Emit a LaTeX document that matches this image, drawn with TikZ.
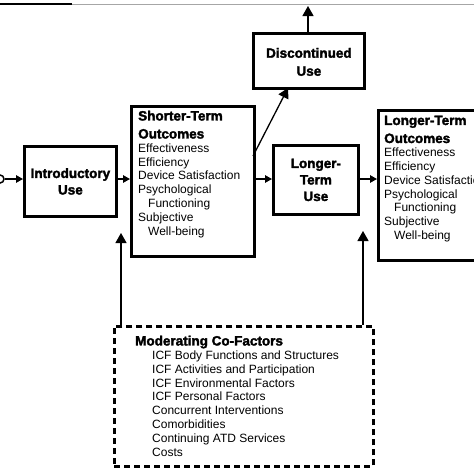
\documentclass[tikz,border=0pt]{standalone}
\usepackage{fontspec}
\setmainfont{Liberation Sans}
\newfontfamily\hdfont[BoldFeatures={FakeBold=2.2}]{Liberation Sans}
\usetikzlibrary{arrows.meta}
\newcommand{\hd}{\hdfont\bfseries\fontsize{13.5}{16.5}\selectfont}
\begin{document}
\begin{tikzpicture}[x=1pt,y=-1pt,
  box/.style={draw=black,line width=2.8pt,fill=white,inner sep=0pt,anchor=north west},
  boxtext/.style={align=center,font=\hd,inner sep=0pt},
  listtext/.style={align=left,inner sep=0pt,anchor=north west,font=\fontsize{12}{13.8}\selectfont},
  conn/.style={line width=1.3pt},
  bigtip/.style={-{Triangle[length=10pt,width=11pt]}},
  smalltip/.style={-{Triangle[length=7pt,width=7.5pt]}}]
\useasboundingbox (0,0) rectangle (474,474);
% top rule
\draw[gray!70,line width=1pt] (0,4) -- (474,4);
\draw[black,line width=1.2pt] (0,4) -- (72,4);
% boxes
\node[box,minimum width=92pt,minimum height=70pt] (intro) at (23,145) {};
\node[boxtext] (introtxt) at (intro.center) {Introductory\\Use};
\node[box,minimum width=123pt,minimum height=150pt] (short) at (130,105) {};
\node[listtext] (shorttxt) at (138,110.5) {{\hd Shorter-Term}\\[4.2pt]{\hd Outcomes}\\
Effectiveness\\Efficiency\\Device Satisfaction\\Psychological\\\hspace*{10pt}Functioning\\Subjective\\\hspace*{10pt}Well-being};
\node[box,minimum width=85pt,minimum height=69pt] (luse) at (272,144) {};
\node[boxtext] (lusetxt) at (luse.center) {Longer-\\Term\\Use};
\node[box,minimum width=111pt,minimum height=55pt] (disc) at (252,32) {};
\node[boxtext] (disctxt) at ([yshift=-1pt]disc.center) {Discontinued\\[1.5pt]Use};
\node[box,minimum width=110pt,minimum height=150pt] (long) at (377,109) {};
\node[listtext] (longtxt) at (384,115.5) {{\hd Longer-Term}\\[4.2pt]{\hd Outcomes}\\
Effectiveness\\Efficiency\\Device Satisfaction\\Psychological\\\hspace*{10pt}Functioning\\Subjective\\\hspace*{10pt}Well-being};
\node[draw=black,line width=2.8pt,dash pattern=on 6pt off 4pt,inner sep=0pt,anchor=north west,minimum width=259pt,minimum height=140pt] (mod) at (113,325) {};
\node[listtext] (modtxt) at (135,335.5) {{\hd Moderating Co-Factors}\\[0.3pt]
\hspace*{17pt}ICF Body Functions and Structures\\
\hspace*{17pt}ICF Activities and Participation\\
\hspace*{17pt}ICF Environmental Factors\\
\hspace*{17pt}ICF Personal Factors\\
\hspace*{17pt}Concurrent Interventions\\
\hspace*{17pt}Comorbidities\\
\hspace*{17pt}Continuing ATD Services\\
\hspace*{17pt}Costs};
% entry marker
\node[draw=black,line width=1.5pt,circle,minimum size=8pt,inner sep=0pt] (start) at (0,179) {};
% connectors
\coordinate (a1) at (23,179);
\draw[conn,smalltip] (start.east) -- (a1);
\coordinate (a2s) at (115,179);
\coordinate (a2e) at (130,179);
\draw[conn,smalltip] (a2s) -- (a2e);
\coordinate (a3s) at (253,179);
\draw[conn,smalltip] (a3s) -- (luse.west |- a3s);
\coordinate (a4s) at (357,179);
\draw[conn,smalltip] (a4s) -- (long.west |- a4s);
\coordinate (d1) at (253,156);
\coordinate (d2) at (288,88);
\draw[conn,bigtip] (d1) -- (d2);
\coordinate (up) at (308,6);
\draw[conn,bigtip] (disc.north -| up) -- (up);
\coordinate (t1) at (121,233);
\coordinate (t2) at (363,231);
\draw[conn,bigtip] (mod.north -| t1) -- (t1);
\draw[conn,bigtip] (mod.north -| t2) -- (t2);
\end{tikzpicture}
\end{document}
